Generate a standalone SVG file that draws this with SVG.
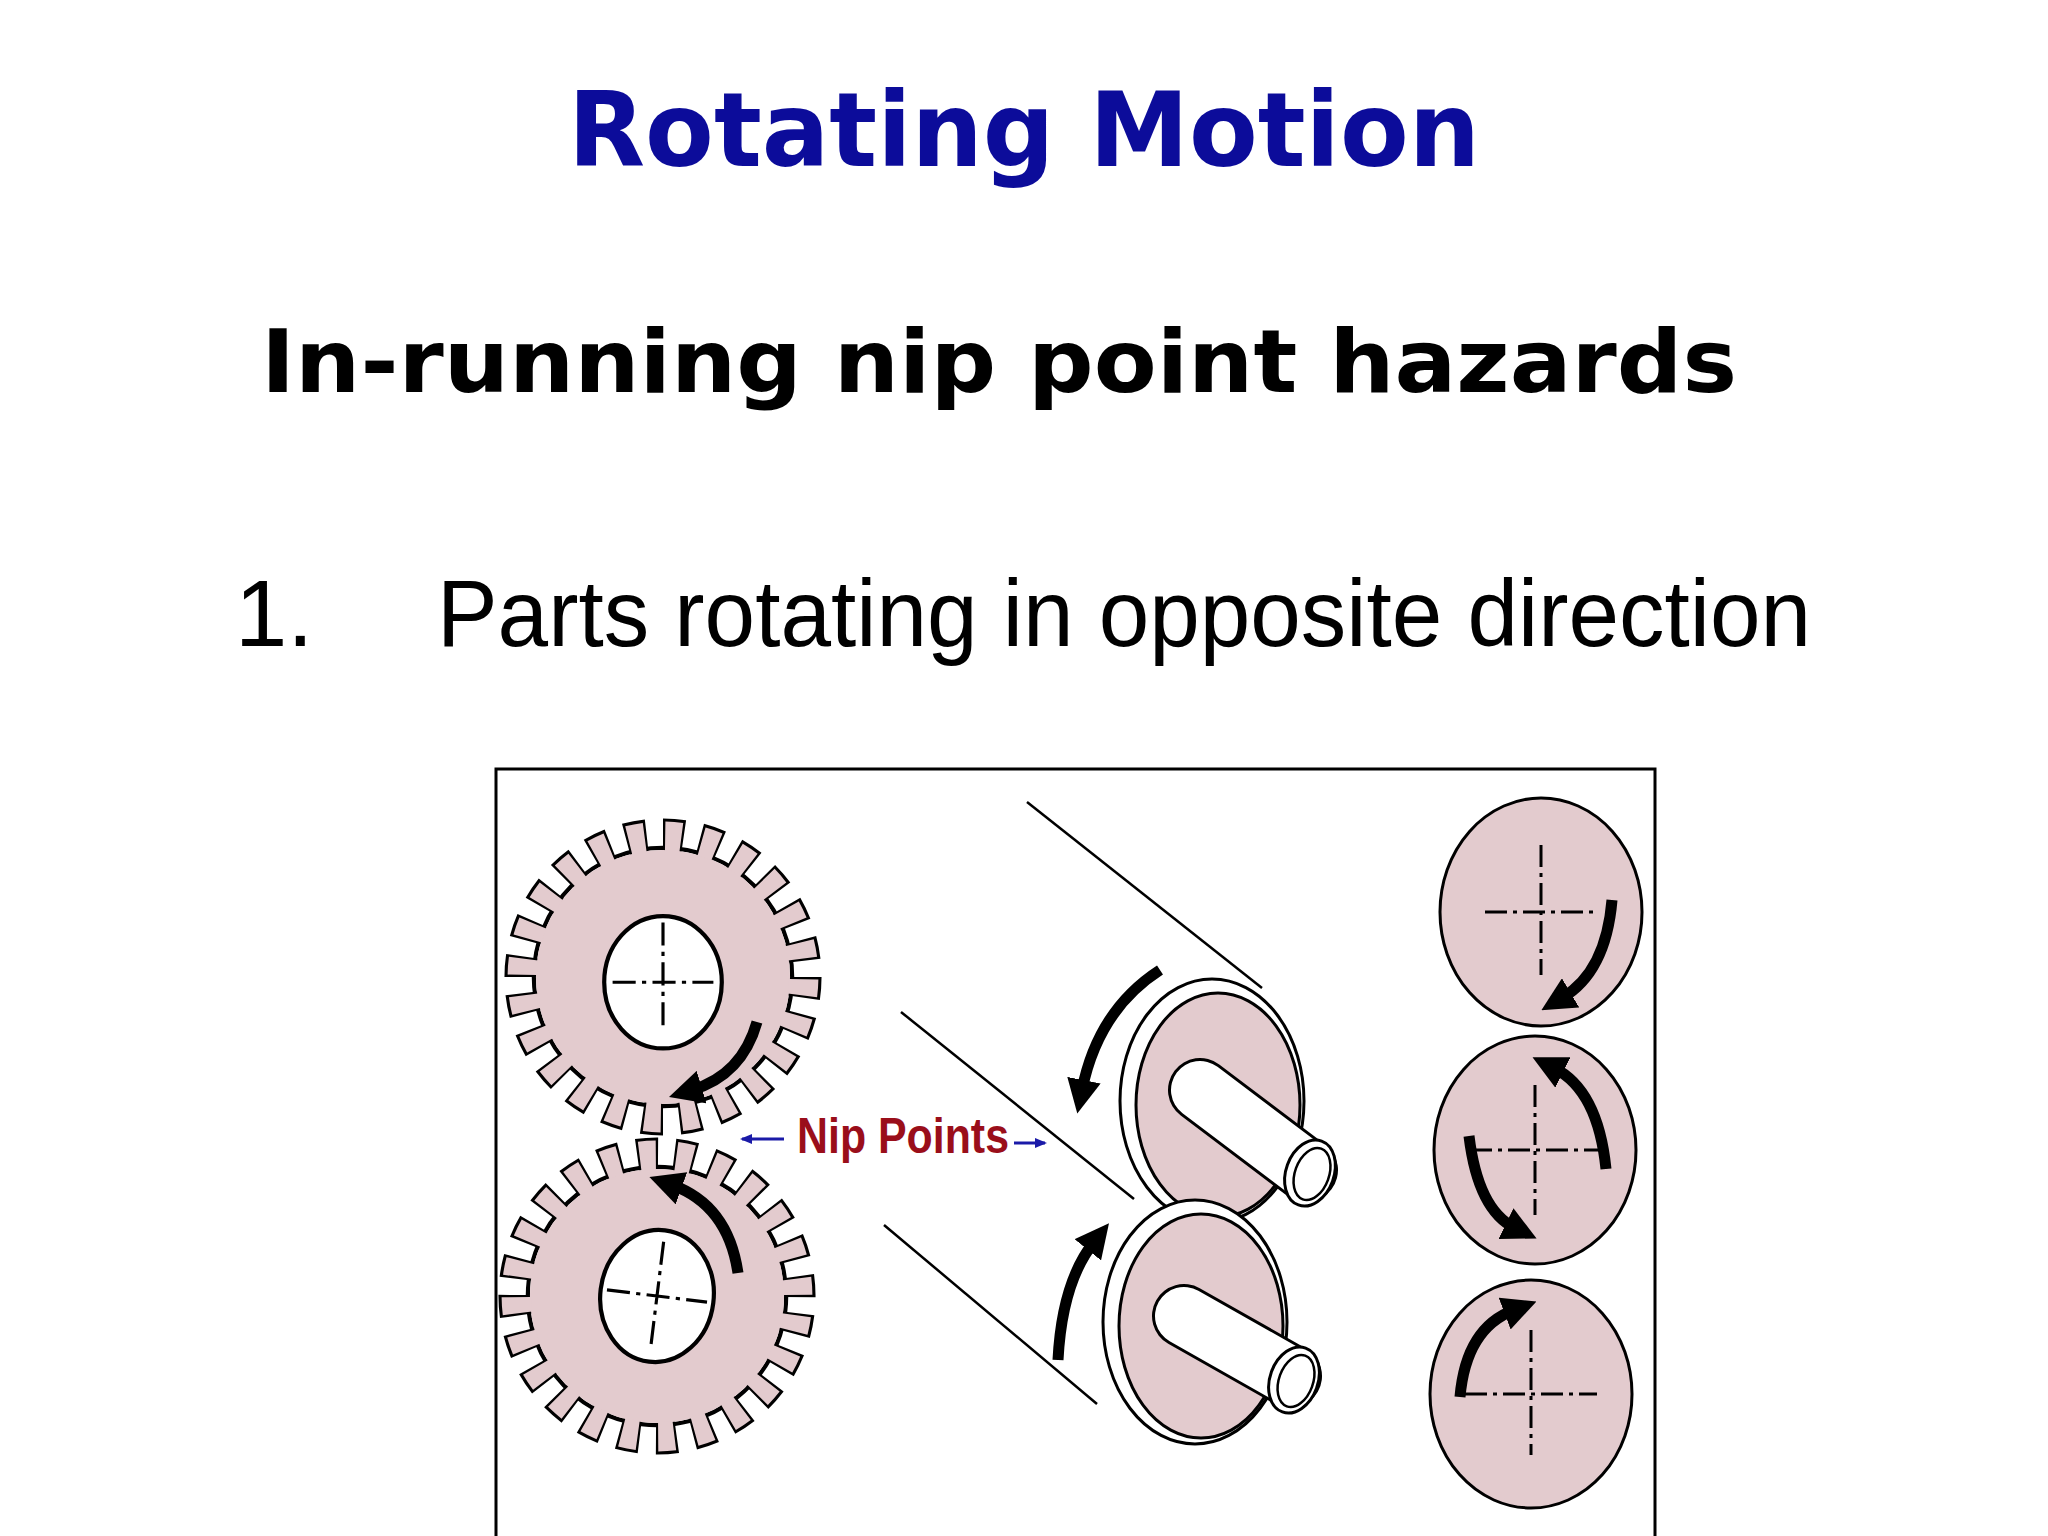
<svg xmlns="http://www.w3.org/2000/svg" width="2048" height="1536" viewBox="0 0 2048 1536">
<style>
.pink{fill:#e3cbce;stroke:#000;stroke-width:3}
.hub{fill:#fff;stroke:#000;stroke-width:4}
.cross{stroke:#000;stroke-width:3;stroke-dasharray:22 6 4 6;fill:none}
.ln{stroke:#000;stroke-width:2.5;fill:none}
.rot{stroke:#000;stroke-width:11;fill:none;marker-end:url(#ah)}
</style>
<defs>
<marker id="ah" markerUnits="userSpaceOnUse" markerWidth="34" markerHeight="34" refX="10" refY="17" orient="auto"><path d="M0,0 L34,17 L0,34 Z" fill="#000"/></marker>
<marker id="bh" markerUnits="userSpaceOnUse" markerWidth="12" markerHeight="12" refX="10" refY="6" orient="auto"><path d="M0,1 L12,6 L0,11 Z" fill="#1a1aa8"/></marker>
<g id="gear">
<circle r="123" fill="none" stroke="#000" stroke-width="4"/>
<circle r="135" fill="none" stroke="#000" stroke-width="32" pathLength="240" stroke-dasharray="5.6 4.4"/>
<circle r="121" fill="#e3cbce"/>
<circle r="134" fill="none" stroke="#e3cbce" stroke-width="28" pathLength="240" stroke-dasharray="4.4 5.6" stroke-dashoffset="-0.6"/>
</g>
</defs>
<rect width="2048" height="1536" fill="#fff"/>
<text x="1024" y="166" font-family="DejaVu Sans" font-weight="bold" font-size="104" fill="#0c0c9a" text-anchor="middle" textLength="912" lengthAdjust="spacingAndGlyphs">Rotating Motion</text>
<text x="261" y="392" font-family="DejaVu Sans" font-weight="bold" font-size="88" fill="#000" textLength="1476" lengthAdjust="spacingAndGlyphs">In-running nip point hazards</text>
<text x="235" y="646" font-family="Liberation Sans" font-size="94" fill="#000">1.</text>
<text x="437" y="646" font-family="Liberation Sans" font-size="94" fill="#000" textLength="1374" lengthAdjust="spacingAndGlyphs">Parts rotating in opposite direction</text>
<rect x="496" y="769" width="1159" height="780" fill="none" stroke="#000" stroke-width="3"/>

<g id="gear-top" transform="translate(663,977) scale(1.05)">
<use href="#gear"/>
<ellipse cx="0" cy="5" rx="56" ry="63" class="hub"/>
<path d="M0,-52 V52 M-48,5 H48" class="cross"/>
</g>
<g id="gear-bottom" transform="translate(657,1296) rotate(7) scale(1.05)">
<use href="#gear"/>
<ellipse cx="0" cy="0" rx="54" ry="63" class="hub"/>
<path d="M0,-52 V52 M-48,0 H48" class="cross"/>
</g>

<g id="roller-top">
<line x1="1027" y1="802" x2="1262" y2="988" class="ln"/>
<line x1="901" y1="1012" x2="1134" y2="1199" class="ln"/>
<ellipse cx="1212" cy="1101" rx="92" ry="122" fill="#fff" stroke="#000" stroke-width="3"/>
<ellipse cx="1218" cy="1105" rx="82" ry="112" class="pink"/>
<line x1="1200" y1="1090" x2="1306" y2="1170" stroke="#000" stroke-width="64" stroke-linecap="round"/>
<line x1="1200" y1="1090" x2="1306" y2="1170" stroke="#fff" stroke-width="58" stroke-linecap="round"/>
<ellipse cx="1310" cy="1173" rx="24" ry="34" transform="rotate(20 1310 1173)" fill="#fff" stroke="#000" stroke-width="3"/>
<ellipse cx="1312" cy="1174" rx="17" ry="27" transform="rotate(20 1312 1174)" fill="#fff" stroke="#000" stroke-width="2.5"/>
</g>
<g id="roller-bottom">
<line x1="884" y1="1225" x2="1097" y2="1404" class="ln"/>
<ellipse cx="1195" cy="1322" rx="92" ry="122" fill="#fff" stroke="#000" stroke-width="3"/>
<ellipse cx="1201" cy="1326" rx="82" ry="112" class="pink"/>
<line x1="1184" y1="1316" x2="1290" y2="1376" stroke="#000" stroke-width="64" stroke-linecap="round"/>
<line x1="1184" y1="1316" x2="1290" y2="1376" stroke="#fff" stroke-width="58" stroke-linecap="round"/>
<ellipse cx="1294" cy="1380" rx="24" ry="34" transform="rotate(20 1294 1380)" fill="#fff" stroke="#000" stroke-width="3"/>
<ellipse cx="1296" cy="1381" rx="17" ry="27" transform="rotate(20 1296 1381)" fill="#fff" stroke="#000" stroke-width="2.5"/>
</g>

<g id="disk-1"><ellipse cx="1541" cy="912" rx="101" ry="114" class="pink"/><path d="M1541,845 V975 M1485,912 H1595" class="cross"/></g>
<g id="disk-2"><ellipse cx="1535" cy="1150" rx="101" ry="114" class="pink"/><path d="M1535,1085 V1215 M1470,1150 H1600" class="cross"/></g>
<g id="disk-3"><ellipse cx="1531" cy="1394" rx="101" ry="114" class="pink"/><path d="M1531,1330 V1455 M1465,1394 H1597" class="cross"/></g>

<g id="connectors">
<path d="M757,1022 Q742,1075 692,1090" class="rot"/>
<path d="M738,1273 Q728,1205 672,1185" class="rot"/>
<path d="M1160,970 Q1098,1010 1082,1090" class="rot"/>
<path d="M1058,1360 Q1062,1282 1094,1242" class="rot"/>
<path d="M1612,900 Q1606,972 1562,998" class="rot"/>
<path d="M1606,1169 Q1598,1090 1554,1068" class="rot"/>
<path d="M1469,1136 Q1478,1210 1515,1228" class="rot"/>
<path d="M1460,1397 Q1466,1328 1514,1310" class="rot"/>
<line x1="784" y1="1139" x2="742" y2="1139" stroke="#1a1aa8" stroke-width="3" marker-end="url(#bh)"/>
<line x1="1014" y1="1143" x2="1045" y2="1143" stroke="#1a1aa8" stroke-width="3" marker-end="url(#bh)"/>
</g>
<text x="797" y="1153" font-family="Liberation Sans" font-weight="bold" font-size="50" fill="#9a0e1a" textLength="212" lengthAdjust="spacingAndGlyphs">Nip Points</text>
</svg>
